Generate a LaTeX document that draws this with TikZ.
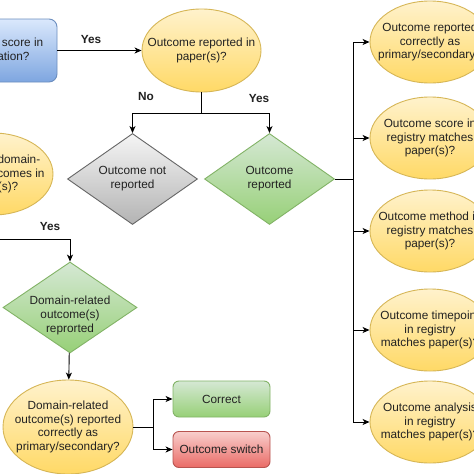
\documentclass[tikz,border=0pt]{standalone}
\usepackage{fontspec}
\setmainfont{Liberation Sans}
\usetikzlibrary{shapes.geometric, arrows.meta}
\definecolor{yellowT}{HTML}{FFF2CC}
\definecolor{yellowB}{HTML}{FFD966}
\definecolor{yellowD}{HTML}{D6B656}
\definecolor{greenT}{HTML}{D5E8D4}
\definecolor{greenB}{HTML}{97D077}
\definecolor{greenD}{HTML}{82B366}
\definecolor{grayT}{HTML}{F5F5F5}
\definecolor{grayB}{HTML}{B3B3B3}
\definecolor{grayD}{HTML}{666666}
\definecolor{blueT}{HTML}{DAE8FC}
\definecolor{blueB}{HTML}{7EA6E0}
\definecolor{blueD}{HTML}{6C8EBF}
\definecolor{redT}{HTML}{F8CECC}
\definecolor{redB}{HTML}{EA6B66}
\definecolor{redD}{HTML}{B85450}
\definecolor{ink}{HTML}{222222}
\tikzset{
    base/.style = {align=center, inner xsep=-25pt, inner ysep=-15pt, text=ink, line width=0.9pt,
        font=\fontsize{11.8pt}{13.8pt}\selectfont},
    question/.style = {base, ellipse, draw=yellowD, top color=yellowT, bottom color=yellowB,
        minimum width=120pt, minimum height=82pt},
    startbox/.style = {base, rectangle, rounded corners=8pt, draw=blueD, top color=blueT,
        bottom color=blueB, minimum width=120pt, minimum height=63pt},
    nogo/.style = {base, diamond, draw=grayD, top color=grayT, bottom color=grayB,
        minimum width=130pt, minimum height=91pt},
    go/.style = {base, diamond, draw=greenD, top color=greenT, bottom color=greenB,
        minimum width=130pt, minimum height=91pt},
    result/.style = {base, rectangle, rounded corners=6pt, minimum width=97pt, minimum height=36pt},
    link/.style = {-{Stealth[length=7pt, width=6pt, inset=2pt]}, line width=0.9pt},
    answer/.style = {font=\bfseries\fontsize{11.8pt}{13.8pt}\selectfont, text=ink}
}
\begin{document}
\begin{tikzpicture}[x=1pt, y=-1pt]
    \useasboundingbox (0,0) rectangle (474,474);
    \clip (0,0) rectangle (474,474);
    \fill[white] (0,0) rectangle (474,474);

    \node[startbox] (score) at (-3,50.5) {Outcome score in\\registration?};
    \node[question, minimum width=119pt, minimum height=83pt] (inpaper) at (201.5,50.5) {Outcome reported in\\paper(s)?};
    \node[nogo] (notrep) at (132.5,179) {Outcome not\\reported};
    \node[go] (rep) at (269.5,179) {Outcome\\reported};

    \node[question] (correctly) at (430,42) {Outcome reported\\correctly as\\primary/secondary?};
    \node[question] (scoreq) at (430,138) {Outcome score in\\registry matches\\paper(s)?};
    \node[question] (method) at (430,231) {Outcome method in\\registry matches\\paper(s)?};
    \node[question] (timepoint) at (430,330) {Outcome timepoint\\in registry\\matches paper(s)?};
    \node[question] (analysis) at (430,422) {Outcome analysis\\in registry\\matches paper(s)?};

    \node[question] (domainq) at (-7,174) {Are there domain-\\related outcomes in\\paper(s)?};
    \node[go, minimum width=134pt, text height=52pt] (domrep) at (70,307.5) {Domain-related\\outcome(s)\\reprorted};
    \node[question, minimum width=130pt, minimum height=94pt] (domcorrect) at (68,427) {Domain-related\\outcome(s) reported\\correctly as\\primary/secondary?};
    \node[result, draw=greenD, top color=greenT, bottom color=greenB] (correct) at (221.5,399) {Correct};
    \node[result, draw=redD, top color=redT, bottom color=redB] (switch) at (221.5,449.5) {Outcome switch};

    \draw[link] (score) -- (inpaper) node[answer, pos=0.4, above=3pt] (yes1) {Yes};
    \draw[line width=0.9pt] (inpaper.south) -- ++(0,21) coordinate (split);
    \draw[link] (split) -| (notrep.north);
    \draw[link] (split) -| (rep.north);
    \node[answer] (no1) at (146,96) {No};
    \node[answer] (yes2) at (259,98) {Yes};

    \draw[line width=0.9pt] (rep.east) -- ++(18,0) coordinate (bus);
    \foreach \n in {correctly, scoreq, method, timepoint, analysis}
        \draw[link] (bus) |- (\n.west);

    \draw[link] (domainq.south) -- ++(0,24) -| (domrep.north);
    \node[answer] (yes3) at (50,226) {Yes};
    \draw[link] (domrep) -- (domcorrect);
    \draw[line width=0.9pt] (domcorrect.east) -- ++(20,0) coordinate (fork);
    \draw[link] (fork) |- (correct.west);
    \draw[link] (fork) |- (switch.west);
\end{tikzpicture}
\end{document}
